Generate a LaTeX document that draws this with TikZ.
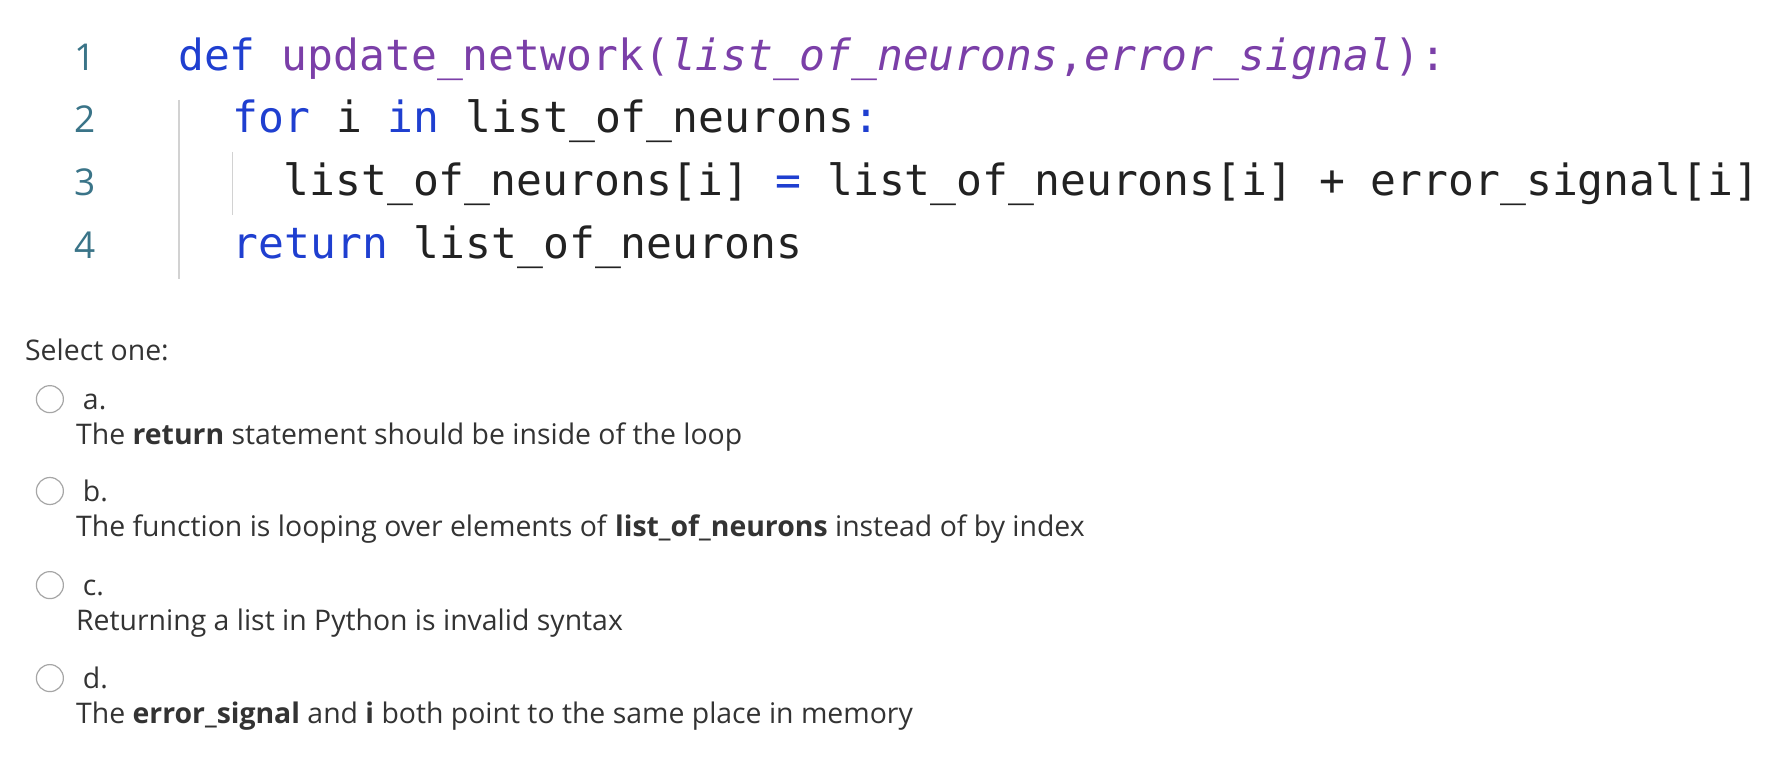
\documentclass[tikz,border=0pt]{standalone}
\usepackage{fontspec}
\setmainfont{Open Sans}
\setmonofont{DejaVu Sans Mono}
\definecolor{kw}{HTML}{1F3FD0}
\definecolor{fn}{HTML}{7B3FA8}
\definecolor{ln}{HTML}{3A7488}
\definecolor{tx}{HTML}{333333}
\definecolor{code}{HTML}{222222}
\tikzset{
 codetxt/.style={anchor=base west,inner sep=0,font=\ttfamily\fontsize{43}{46}\selectfont,text=code},
 numtxt/.style={anchor=base,inner sep=0,font=\fontsize{37}{40}\selectfont,text=ln},
 opt/.style={anchor=base west,inner sep=0,font=\fontsize{28.4}{31}\selectfont,text=tx},
 radio/.style={circle,draw=gray!70,line width=1.2pt,minimum size=27pt,inner sep=0},
 guide/.style={draw=gray!35,line width=1.7pt}
}
\begin{document}
\begin{tikzpicture}[x=1.134pt,y=-1.134pt]
\useasboundingbox (0,0) rectangle (1568,681);
\fill[white] (0,0) rectangle (1568,681);
\node[numtxt] (n1) at (75,62) {1};
\node[numtxt] (n2) at (75,117) {2};
\node[numtxt] (n3) at (75,172) {3};
\node[numtxt] (n4) at (75,228) {4};
\draw[guide] (158,88) -- (158,246);
\draw[guide] (205,134) -- (205,190);
\node[codetxt] (c1) at (157,62) {\textcolor{kw}{def} \textcolor{fn}{update\_network(\textit{list\_of\_neurons},\textit{error\_signal}):}};
\node[codetxt] (c2) at (205,117) {\textcolor{kw}{for} i \textcolor{kw}{in} list\_of\_neurons\textcolor{kw}{:}};
\node[codetxt] (c3) at (250,172) {list\_of\_neurons[i] \textcolor{kw}{=} list\_of\_neurons[i] + error\_signal[i]};
\node[codetxt] (c4) at (205,228) {\textcolor{kw}{return} list\_of\_neurons};
\node[opt] (sel) at (22,318) {Select one:};
\foreach \n/\y/\l/\t in {a/361/a./{The \textbf{return} statement should be inside of the loop},
  b/442/b./{The function is looping over elements of \textbf{list\_of\_neurons} instead of by index},
  c/525/c./{Returning a list in Python is invalid syntax},
  d/607/d./{The \textbf{error\_signal} and \textbf{i} both point to the same place in memory}}{
  \node[radio] (r\n) at (44,\y-9) {};
  \node[opt] (l\n) at (73,\y) {\l};
  \node[opt] (t\n) at (67,\y+31) {\t};
}
\end{tikzpicture}
\end{document}
